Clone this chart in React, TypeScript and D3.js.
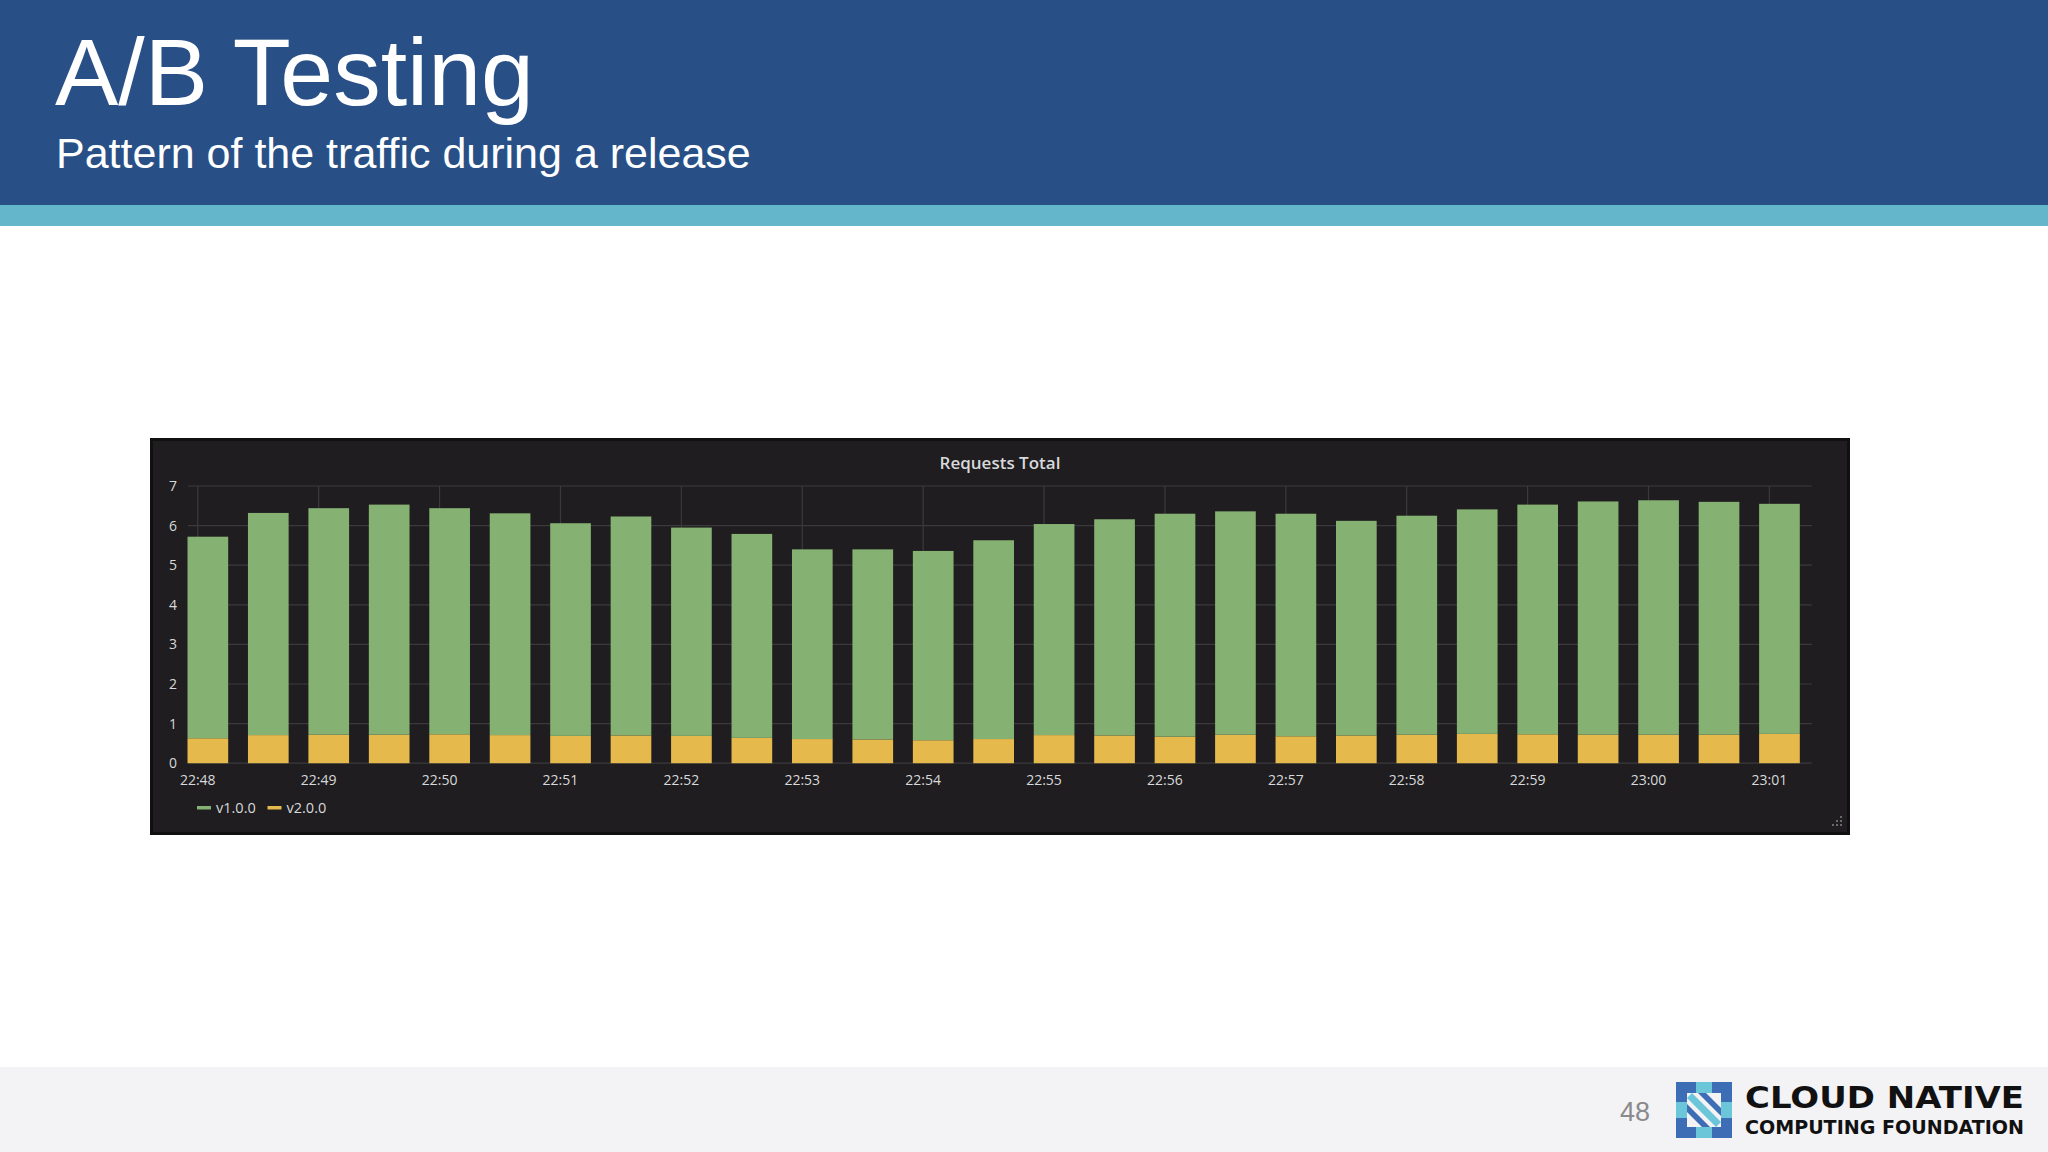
import React, { useEffect, useRef } from "react";
import * as d3 from "d3";

// bucket timestamps (30s buckets)
const times = [
  "22:48:05", "22:48:35", "22:49:05", "22:49:35", "22:50:05", "22:50:35",
  "22:51:05", "22:51:35", "22:52:05", "22:52:35", "22:53:05", "22:53:35",
  "22:54:05", "22:54:35", "22:55:05", "22:55:35", "22:56:05", "22:56:35",
  "22:57:05", "22:57:35", "22:58:05", "22:58:35", "22:59:05", "22:59:35",
  "23:00:05", "23:00:35", "23:01:05",
];

const v1 = [
  5.09, 5.61, 5.72, 5.81, 5.71, 5.6, 5.37, 5.53, 5.26, 5.15, 4.79, 4.8, 4.78,
  5.02, 5.33, 5.46, 5.63, 5.64, 5.62, 5.42, 5.53, 5.67, 5.8, 5.89, 5.92, 5.88,
  5.81,
];

const v2 = [
  0.63, 0.71, 0.72, 0.72, 0.73, 0.71, 0.69, 0.7, 0.69, 0.64, 0.61, 0.6, 0.58,
  0.61, 0.71, 0.7, 0.67, 0.72, 0.68, 0.7, 0.72, 0.74, 0.73, 0.72, 0.72, 0.72,
  0.74,
];

const yTicks = [0, 1, 2, 3, 4, 5, 6, 7];
const seriesNames = ["v1.0.0", "v2.0.0"];

const GREEN = "#85b173";
const YELLOW = "#e6b94d";
const TEXT = "#d8d9da";
const GRID = "#3a3a3c";

export default function App() {
  const ref = useRef<SVGSVGElement>(null);

  useEffect(() => {
    const svg = d3.select(ref.current);
    svg.selectAll(".chart").remove();
    const g = svg.append("g").attr("class", "chart");

    const parse = d3.timeParse("%H:%M:%S");
    const rows = times.map((t, i) => ({ t: parse(t) as Date, v1: v1[i], v2: v2[i] }));

    const x = d3
      .scaleTime()
      .domain([parse("22:47:55") as Date, parse("23:01:21") as Date])
      .range([187.7, 1811.7]);

    const y = d3.scaleLinear().domain([0, 7]).range([763.2, 486]);

    // grid
    g.append("g")
      .selectAll("line")
      .data(yTicks)
      .join("line")
      .attr("x1", x.range()[0])
      .attr("x2", x.range()[1])
      .attr("y1", (d) => y(d))
      .attr("y2", (d) => y(d))
      .attr("stroke", GRID)
      .attr("stroke-width", 1.2);

    const minuteTicks = x.ticks(d3.timeMinute.every(1) as any);
    g.append("g")
      .selectAll("line")
      .data(minuteTicks)
      .join("line")
      .attr("x1", (d) => x(d))
      .attr("x2", (d) => x(d))
      .attr("y1", y(7))
      .attr("y2", y(0))
      .attr("stroke", GRID)
      .attr("stroke-width", 1.2);

    // stacked bars, v2.0.0 at the bottom
    const stack = d3.stack<any>().keys(["v2", "v1"]);
    const layers = stack(rows);
    const step = x(rows[1].t) - x(rows[0].t);
    const barW = step * 0.673;
    const colors: Record<string, string> = { v1: GREEN, v2: YELLOW };

    g.append("g")
      .selectAll("g")
      .data(layers)
      .join("g")
      .attr("fill", (d) => colors[d.key])
      .selectAll("rect")
      .data((d) => d)
      .join("rect")
      .attr("x", (d: any) => x(d.data.t) - barW / 2)
      .attr("width", barW)
      .attr("y", (d) => y(d[1]))
      .attr("height", (d) => y(d[0]) - y(d[1]));

    // y axis labels
    g.append("g")
      .selectAll("text")
      .data(yTicks)
      .join("text")
      .attr("x", 177)
      .attr("y", (d) => y(d) + 5)
      .attr("text-anchor", "end")
      .attr("fill", TEXT)
      .attr("font-family", "'Open Sans', sans-serif")
      .attr("font-size", 14)
      .text((d) => d);

    // x axis labels
    const fmt = d3.timeFormat("%H:%M");
    g.append("g")
      .selectAll("text")
      .data(minuteTicks)
      .join("text")
      .attr("x", (d) => x(d))
      .attr("y", 785)
      .attr("text-anchor", "middle")
      .attr("fill", TEXT)
      .attr("font-family", "'Open Sans', sans-serif")
      .attr("font-size", 14)
      .text((d) => fmt(d));

    // legend
    const legend = g
      .append("g")
      .selectAll("g")
      .data(seriesNames)
      .join("g")
      .attr("transform", (_, i) => `translate(${197 + i * 70.5},0)`);
    legend
      .append("rect")
      .attr("x", 0)
      .attr("y", 806)
      .attr("width", 14)
      .attr("height", 3.5)
      .attr("fill", (_, i) => (i === 0 ? GREEN : YELLOW));
    legend
      .append("text")
      .attr("x", 19)
      .attr("y", 812.5)
      .attr("fill", TEXT)
      .attr("font-family", "'Open Sans', sans-serif")
      .attr("font-size", 14.5)
      .text((d) => d);
  }, []);

  return (
    <svg
      ref={ref}
      width={2048}
      height={1152}
      style={{ position: "absolute", left: 0, top: 0, background: "#ffffff" }}
    >
      {/* header */}
      <rect x={0} y={0} width={2048} height={205} fill="#285087" />
      <rect x={0} y={205} width={2048} height={21} fill="#64b6ca" />
      <text
        x={55}
        y={105}
        fill="#ffffff"
        fontFamily="'Liberation Sans', Arial, sans-serif"
        fontSize={95}
      >
        A/B Testing
      </text>
      <text
        x={56}
        y={168}
        fill="#ffffff"
        fontFamily="'Liberation Sans', Arial, sans-serif"
        fontSize={43}
      >
        Pattern of the traffic during a release
      </text>

      {/* panel */}
      <rect x={150} y={438} width={1700} height={397} fill="#101011" />
      <rect x={153} y={441} width={1694} height={391} fill="#1f1d1f" />
      <text
        x={1000}
        y={469}
        textAnchor="middle"
        fill={TEXT}
        fontFamily="'Open Sans', sans-serif"
        fontWeight={600}
        fontSize={17}
      >
        Requests Total
      </text>
      <g fill="#6a6a6a">
        <rect x={1840} y={824} width={2} height={2} />
        <rect x={1836} y={824} width={2} height={2} />
        <rect x={1832} y={824} width={2} height={2} />
        <rect x={1840} y={820} width={2} height={2} />
        <rect x={1836} y={820} width={2} height={2} />
        <rect x={1840} y={816} width={2} height={2} />
      </g>

      {/* footer */}
      <rect x={0} y={1067} width={2048} height={85} fill="#f3f2f5" />
      <text
        x={1620}
        y={1121}
        fill="#8a8a8c"
        fontFamily="'Liberation Sans', Arial, sans-serif"
        fontSize={27}
      >
        48
      </text>
      <g transform="translate(1676,1082)">
        <rect x={0} y={0} width={56} height={56} fill="#3d6db5" />
        <rect x={11} y={11} width={34} height={34} fill="#f3f2f5" />
        <rect x={20} y={0} width={16} height={11} fill="#6cc6da" />
        <rect x={20} y={45} width={16} height={11} fill="#6cc6da" />
        <rect x={0} y={20} width={11} height={16} fill="#6cc6da" />
        <rect x={45} y={20} width={11} height={16} fill="#6cc6da" />
        <polygon points="11,16 16,11 45,40 40,45" fill="#6cc6da" />
        <polygon points="22,11 30,11 45,26 45,34" fill="#3d6db5" />
        <polygon points="11,22 11,30 26,45 34,45" fill="#3d6db5" />
      </g>
      <text
        x={1745}
        y={1108}
        fill="#111111"
        fontFamily="'DejaVu Sans', sans-serif"
        fontWeight={700}
        fontSize={30}
        textLength={279}
        lengthAdjust="spacingAndGlyphs"
      >
        CLOUD NATIVE
      </text>
      <text
        x={1745}
        y={1134}
        fill="#111111"
        fontFamily="'DejaVu Sans', sans-serif"
        fontWeight={700}
        fontSize={20}
        textLength={279}
        lengthAdjust="spacingAndGlyphs"
      >
        COMPUTING FOUNDATION
      </text>
    </svg>
  );
}
